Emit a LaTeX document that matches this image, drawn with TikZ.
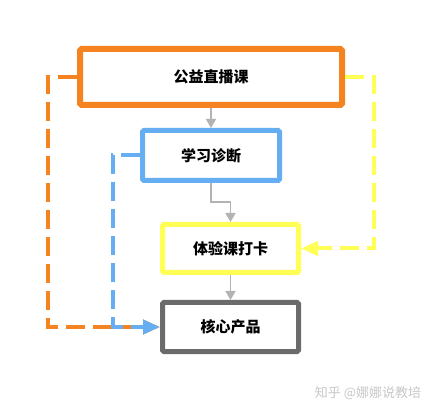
\documentclass[tikz,border=0pt]{standalone}
\usepackage{fontspec}
\setmainfont{Noto Sans CJK SC}
\usetikzlibrary{arrows.meta}

\definecolor{orangeline}{HTML}{F5831F}
\definecolor{blueline}{HTML}{66AEF2}
\definecolor{yellowline}{HTML}{FFFF55}
\definecolor{grayline}{HTML}{6B6B6B}
\definecolor{arrowgray}{HTML}{B3B3B3}

\begin{document}
\begin{tikzpicture}[x=1pt,y=-1pt,
    stage/.style={draw,rounded corners=1.5pt,fill=white,font=\fontsize{15}{18}\selectfont\bfseries},
    flow/.style={draw=arrowgray,line width=1.5pt,-{Triangle[length=9pt,width=10pt]}},
    jump/.style={line width=4pt,dash pattern=on 19pt off 8pt,-{Triangle[length=17pt,width=14pt]}}]
            \useasboundingbox (0,0) rectangle (434,414);

            \node[stage,draw=orangeline,line width=6pt,minimum width=262pt,minimum height=56pt] (live) at (211,77) {公益直播课};
            \node[stage,draw=blueline,line width=5pt,minimum width=137pt,minimum height=50pt] (diag) at (211,155.5) {学习诊断};
            \node[stage,draw=yellowline,line width=5pt,minimum width=136pt,minimum height=48pt] (trial) at (230.5,248.5) {体验课打卡};
            \node[stage,draw=grayline,line width=5pt,minimum width=136pt,minimum height=49pt] (core) at (230.5,327) {核心产品};

            \path [flow] (live) -- (diag);
            \path [flow] (diag.south) -- ++(0,19) -| (trial.north);
            \path [flow] (trial) -- (core);

            \draw [jump,orangeline] (live.west) -- ++(-29,0) |- (core.west);
            \draw [jump,blueline] (diag.west) -- ++(-27,0) |- (core.west);
            \draw [jump,yellowline] (live.east) -- ++(29,0) |- (trial.east);

            \node[text=black!22,font=\fontsize{13}{15}\selectfont] (mark) at (368,393) {知乎 @娜娜说教培};
        \end{tikzpicture}
\end{document}
